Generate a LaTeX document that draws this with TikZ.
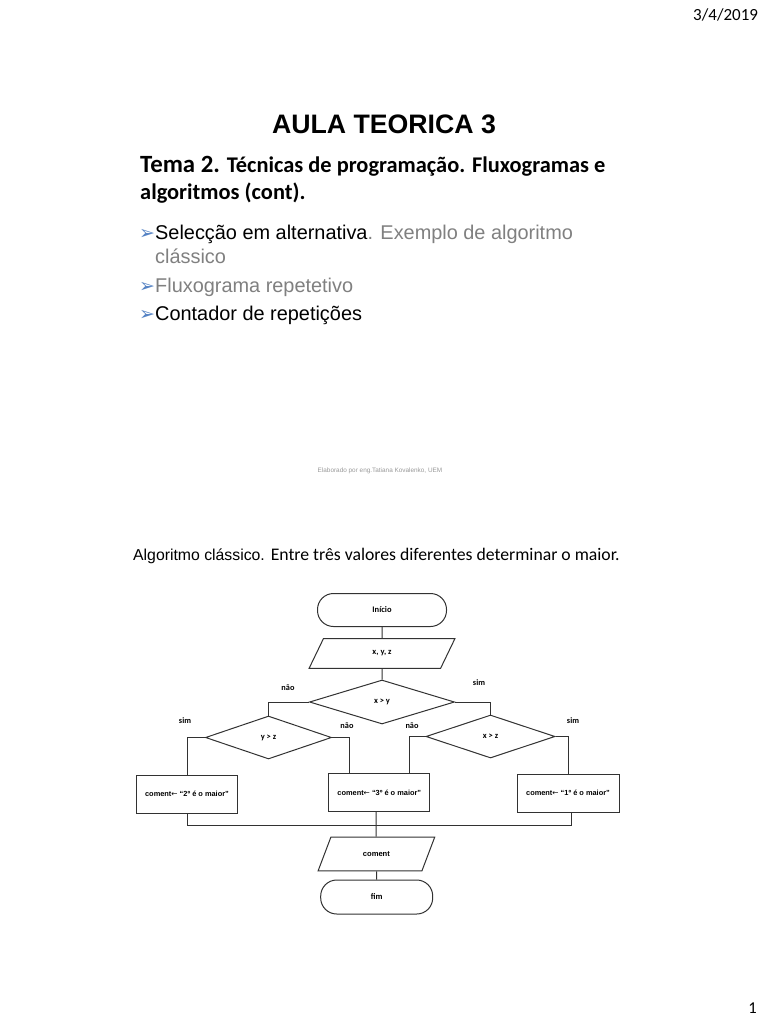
\documentclass[tikz,border=0pt]{standalone}
\usepackage{fontspec}
\setmainfont{Liberation Sans}
\newfontfamily\calibri{Carlito}
\newfontfamily\simbolos{DejaVu Sans}
\usetikzlibrary{shapes.geometric}
\definecolor{cinza}{RGB}{128,128,128}
\definecolor{azulseta}{RGB}{84,130,196}
\definecolor{linha}{RGB}{50,50,50}
\newcommand{\atrib}{{\simbolos\mdseries ←}}
\tikzset{
  fluxo/.style = {draw = linha, line width = 1pt},
  terminal/.style = {fluxo, rectangle, rounded corners = 16pt, font = \calibri\bfseries\fontsize{8.5}{10}\selectfont},
  entrada/.style = {fluxo, trapezium, trapezium stretches = true},
  decisao/.style = {fluxo, diamond, font = \calibri\bfseries\fontsize{8.5}{10}\selectfont},
  caixa/.style = {fluxo, rectangle, minimum height = 38pt, font = \bfseries\fontsize{7.4}{9}\selectfont},
  rotulo/.style = {font = \calibri\bfseries\fontsize{8.3}{10}\selectfont},
  marcador/.style = {anchor = base west, text = azulseta, font = \simbolos\fontsize{19}{22}\selectfont},
  item/.style = {anchor = base west, font = \fontsize{19.9}{24}\selectfont}
}
\begin{document}
\begin{tikzpicture}[x = 1pt, y = -1pt, every node/.style = {inner sep = 0pt}]
\useasboundingbox (0,0) rectangle (768,1024);
\fill [white] (0,0) rectangle (768,1024);
% primeiro diapositivo
\node [anchor = base west, font = \calibri\fontsize{17}{20}\selectfont] (data) at (693,21) {3/4/2019};
\node [anchor = base, font = \bfseries\fontsize{26.7}{32}\selectfont] (titulo) at (384,134) {AULA TEORICA 3};
\node [anchor = base west, font = \calibri\bfseries\fontsize{22.4}{27}\selectfont] (tema) at (140,173) {{\fontsize{24.8}{27}\selectfont Tema 2.} Técnicas de programação. Fluxogramas e};
\node [anchor = base west, font = \calibri\bfseries\fontsize{22.4}{27}\selectfont] (temab) at (140,200) {algoritmos (cont).};
\foreach \y/\nome in {240/a, 292/b, 320/c}{
\node [marcador] (seta\nome) at (139,\y) {➢};
}
\node [item] (itema) at (155,240) {Selecção em alternativa{\color{cinza}. Exemplo de algoritmo}};
\node [item, text = cinza] (itemab) at (155,263) {clássico};
\node [item, text = cinza] (itemb) at (155,292) {Fluxograma repetetivo};
\node [item] (itemc) at (155,320) {Contador de repetições};
\node [font = \fontsize{6.4}{8}\selectfont, text = black!40] (rodape) at (380,471) {Elaborado por eng.Tatiana Kovalenko, UEM};
% segundo diapositivo
\node [anchor = base west, font = \fontsize{15.8}{19}\selectfont] (subtitulo) at (133,560) {Algoritmo clássico. {\calibri\fontsize{17.7}{19}\selectfont Entre três valores diferentes determinar o maior.}};
\node [terminal, minimum width = 129pt, minimum height = 33pt] (inicio) at (382,610) {Início};
\node [entrada, trapezium left angle = 67, trapezium right angle = 113, minimum width = 146pt, minimum height = 29.6pt, font = \calibri\bfseries\fontsize{8.5}{10}\selectfont] (dados) at (382,653.5) {x, y, z};
\node [decisao, minimum width = 145pt, minimum height = 44pt] (xy) at (382,702) {x > y};
\node [decisao, minimum width = 126pt, minimum height = 43pt] (yz) at (268.5,737.5) {y > z};
\node [decisao, minimum width = 129pt, minimum height = 43pt] (xz) at (490.5,736.5) {x > z};
\node [caixa, minimum width = 101pt] (maior2) at (187,794) {coment\atrib{} “2º é o maior”};
\node [caixa, minimum width = 101pt] (maior3) at (379.3,792.5) {coment\atrib{} “3º é o maior”};
\node [caixa, minimum width = 102pt] (maior1) at (568,793) {coment\atrib{} “1º é o maior”};
\coordinate (juncao) at (376,825);
\node [entrada, trapezium left angle = 53, trapezium right angle = 127, minimum width = 117pt, minimum height = 33.7pt, font = \bfseries\fontsize{7.6}{9}\selectfont] (saida) at (376.4,854) {coment};
\node [terminal, minimum width = 112pt, minimum height = 34pt] (fim) at (376.7,897) {fim};
\foreach \nome/\x/\y/\texto in {naoa/288/688/não, sima/479/683/sim, simb/185/721/sim, naob/347/726/não, naoc/412/726/não, simc/573/721/sim}{
\node [rotulo] (\nome) at (\x,\y) {\texto};
}
\draw [fluxo] (inicio) -- (dados);
\draw [fluxo] (dados) -- (xy);
\draw [fluxo] (xy.west) -| (yz.north);
\draw [fluxo] (xy.east) -| (xz.north);
\draw [fluxo] (yz.west) -| (maior2.north);
\draw [fluxo] (yz.east) -| ([xshift = -30pt]maior3.north);
\draw [fluxo] (xz.west) -| ([xshift = 30pt]maior3.north);
\draw [fluxo] (xz.east) -| (maior1.north);
\draw [fluxo] (maior2.south) |- (juncao) -| ([xshift = 3.5pt]maior1.south);
\draw [fluxo] (maior3.south -| juncao) -- (juncao) -- (saida);
\draw [fluxo] (saida) -- (fim);
\node [anchor = base east, font = \calibri\fontsize{16.6}{20}\selectfont] (pagina) at (757,1013) {1};
\end{tikzpicture}
\end{document}
